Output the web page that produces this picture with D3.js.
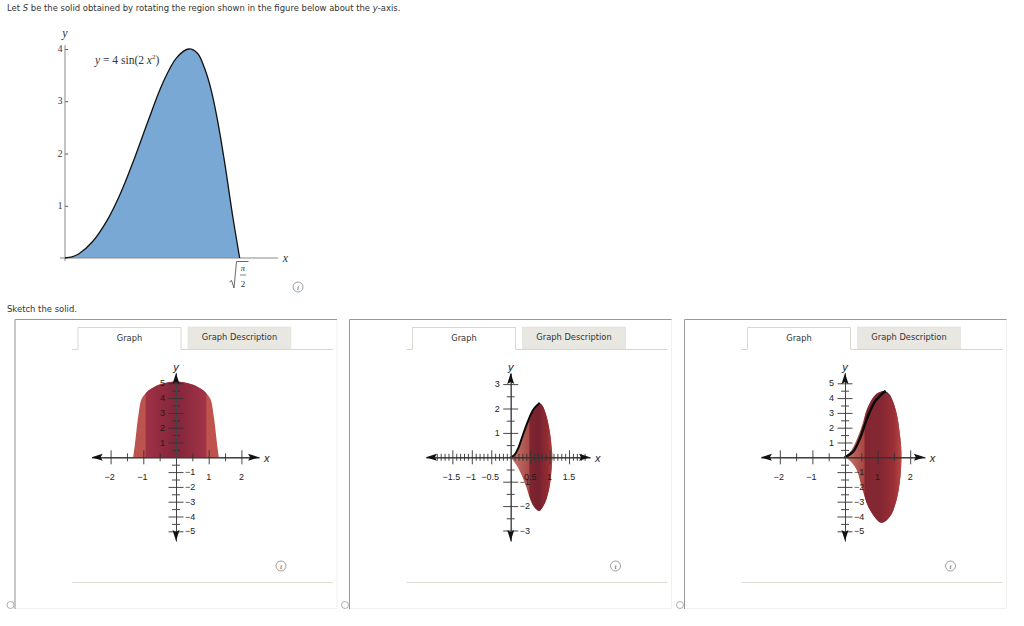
<!DOCTYPE html>
<html>
<head>
<meta charset="utf-8">
<script src="https://cdn.jsdelivr.net/npm/d3@7"></script>
<style>
  body { margin: 0; background: white; }
  svg { display: block; }
  text { font-family: "DejaVu Sans", sans-serif; }
  .ticklabel { font-family: "Liberation Sans", sans-serif; font-size: 9px; fill: #1c1c1c; }
  .axislabel { font-family: "Liberation Sans", sans-serif; font-size: 11px; font-style: italic; fill: #222; }
  .serif { font-family: "Liberation Serif", serif; fill: #333; }
</style>
</head>
<body>
<svg id="chart" width="1024" height="626"></svg>
<script>
// Region curve.
const regionX = [0, 0.05, 0.1, 0.2, 0.3, 0.4, 0.5, 0.6, 0.7, 0.8, 0.886, 0.95, 1.0, 1.05, 1.1, 1.15, 1.2, 1.253];
const regionY = [0, 0.02, 0.08, 0.32, 0.71, 1.25, 1.92, 2.65, 3.34, 3.83, 4, 3.92, 3.64, 3.2, 2.55, 1.75, 0.85, 0];
const regionYTicks = [1, 2, 3, 4];

// First solid: outer outline.
const solidAX = [-1.31, -1.25, -1.2, -1.14, -1.06, -0.92, -0.75, -0.5, -0.23, 0, 0.23, 0.5, 0.75, 0.92, 1.06, 1.14, 1.2, 1.25, 1.31];
const solidAY = [0, 1, 2, 3, 3.9, 4.35, 4.65, 4.92, 5.07, 5.1, 5.07, 4.92, 4.65, 4.35, 3.9, 3, 2, 1, 0];

// Second solid: right/lower outline, plus the black profile curve.
const solidBX = [0, 0.17, 0.37, 0.5, 0.62, 0.73, 0.8, 0.9, 1.0, 1.06, 1.07, 1.05, 1.0, 0.9, 0.8, 0.73, 0.6, 0.5, 0.37, 0.17, 0];
const solidBY = [0, 0.3, 1.1, 1.7, 2.05, 2.21, 2.15, 1.8, 1.1, 0.3, 0, -0.5, -1.2, -1.8, -2.1, -2.2, -2.03, -1.7, -1.07, -0.38, 0];
const profileBX = [0, 0.1, 0.2, 0.3, 0.4, 0.5, 0.6, 0.73];
const profileBY = [0, 0.1, 0.4, 0.85, 1.3, 1.7, 2.0, 2.21];

// Third solid.
const solidCX = [0, 0.2, 0.46, 0.71, 0.92, 1.12, 1.25, 1.4, 1.58, 1.68, 1.73, 1.7, 1.58, 1.38, 1.12, 0.77, 0.51, 0.36, 0.15, 0];
const solidCY = [0, 0.5, 1.74, 3.43, 4.2, 4.45, 4.42, 4.1, 3.0, 1.6, 0.4, -1.3, -2.9, -4.0, -4.42, -3.57, -2.0, -0.86, -0.23, 0];
const profileCX = [0, 0.25, 0.46, 0.66, 0.92, 1.22];
const profileCY = [0, 0.38, 1.29, 2.53, 3.77, 4.45];
const profileTailCX = [1.22, 1.32, 1.4];
const profileTailCY = [4.45, 4.32, 4.1];

// Axis ticks for the three graphs.
const wholeTicks2 = [-2, -1, 1, 2];
const halfTicks2 = [-1.5, -0.5, 0.5, 1.5];
const wholeTicks5 = [-5, -4, -3, -2, -1, 1, 2, 3, 4, 5];
const halfTicks5 = [-4.5, -3.5, -2.5, -1.5, -0.5, 0.5, 1.5, 2.5, 3.5, 4.5];
const xMajorB = [-1.5, -1, -0.5, 0.5, 1, 1.5];
const xMinorB = [-1.9, -1.8, -1.7, -1.6, -1.4, -1.3, -1.2, -1.1, -0.9, -0.8, -0.7, -0.6, -0.4, -0.3, -0.2, -0.1,
	0.1, 0.2, 0.3, 0.4, 0.6, 0.7, 0.8, 0.9, 1.1, 1.2, 1.3, 1.4, 1.6, 1.7, 1.8, 1.9];
const yMajorB = [-3, -2, -1, 1, 2, 3];
const yMinorB = [-2.5, -1.5, -0.5, 0.5, 1.5, 2.5];

const tabLabels = ["Graph", "Graph Description"];

const svg = d3.select("#chart");
const fmt = d => String(d).replace("-", "\u2212");
const zip = (xs, ys) => xs.map((x, i) => [x, ys[i]]);


// Text at the top.
let title = svg.append("text").attr("x", 7).attr("y", 11).attr("font-size", 8.45).attr("fill", "#333");
title.append("tspan").text("Let ");
title.append("tspan").attr("font-style", "italic").text("S");
title.append("tspan").text(" be the solid obtained by rotating the region shown in the figure below about the ");
title.append("tspan").attr("font-style", "italic").text("y");
title.append("tspan").text("-axis.");

svg.append("text").attr("x", 7).attr("y", 312).attr("font-size", 8.45).attr("fill", "#333").text("Sketch the solid.");


function infoIcon(x, y){
	let g = svg.append("g").attr("transform", `translate(${x},${y})`);
	g.append("circle").attr("r", 5).attr("fill", "white").attr("stroke", "#777").attr("stroke-width", 0.7);
	g.append("text").attr("class", "serif").attr("text-anchor", "middle").attr("y", 2.5)
	  .attr("font-size", 7).attr("font-style", "italic").text("i");
} // infoIcon


function drawRegion(){
	let x = d3.scaleLinear().domain([0, 1]).range([65, 204.4]);
	let y = d3.scaleLinear().domain([0, 4]).range([258, 49]);
	let points = zip(regionX, regionY);
	let g = svg.append("g");

	g.append("path")
	  .attr("d", d3.area().x(d=>x(d[0])).y0(y(0)).y1(d=>y(d[1])).curve(d3.curveCatmullRom)(points))
	  .attr("fill", "#78a8d3");

	// Axes.
	let yaxis = g.append("g").attr("transform", `translate(${x(0)},0)`)
	  .call(d3.axisRight(y).tickValues(regionYTicks).tickFormat("").tickSize(3).tickSizeOuter(0));
	yaxis.select(".domain").remove();
	yaxis.selectAll("line").attr("stroke", "#555");
	g.append("line").attr("x1", x(0)).attr("x2", x(0)).attr("y1", 45).attr("y2", 261).attr("stroke", "#888");
	g.append("line").attr("x1", 60).attr("x2", 278).attr("y1", y(0)).attr("y2", y(0)).attr("stroke", "#888");

	g.append("path")
	  .attr("d", d3.line().x(d=>x(d[0])).y(d=>y(d[1])).curve(d3.curveCatmullRom)(points))
	  .attr("fill", "none").attr("stroke", "#111").attr("stroke-width", 1.3);

	g.selectAll("text.ytick").data(regionYTicks).enter().append("text")
	  .attr("class", "serif ytick").attr("x", 60).attr("y", d=>y(d)+3.2)
	  .attr("text-anchor", "middle").attr("font-size", 9.5).text(d=>d);

	g.append("text").attr("class", "serif").attr("x", 65).attr("y", 37).attr("text-anchor", "middle")
	  .attr("font-size", 12).attr("font-style", "italic").text("y");
	g.append("text").attr("class", "serif").attr("x", 285.5).attr("y", 261.5).attr("text-anchor", "middle")
	  .attr("font-size", 12).attr("font-style", "italic").text("x");

	let eq = g.append("text").attr("class", "serif").attr("x", 95).attr("y", 63.5).attr("font-size", 11.5);
	eq.append("tspan").attr("font-style", "italic").text("y");
	eq.append("tspan").text(" = 4 sin(2 ");
	eq.append("tspan").attr("font-style", "italic").text("x");
	eq.append("tspan").attr("font-size", 7).attr("dy", -4.5).text("2");
	eq.append("tspan").attr("dy", 4.5).text(")");

	// sqrt(pi/2) tick label.
	g.append("path").attr("d", "M229.5,282 L231.5,280.5 L234,288 L236.5,261.5 L248.5,261.5")
	  .attr("fill", "none").attr("stroke", "#444").attr("stroke-width", 0.8);
	g.append("text").attr("class", "serif").attr("x", 243).attr("y", 270.5).attr("text-anchor", "middle")
	  .attr("font-size", 8.5).attr("font-style", "italic").text("\u03c0");
	g.append("line").attr("x1", 240).attr("x2", 246).attr("y1", 275).attr("y2", 275).attr("stroke", "#555").attr("stroke-width", 0.7);
	g.append("text").attr("class", "serif").attr("x", 243).attr("y", 286.5).attr("text-anchor", "middle")
	  .attr("font-size", 9).text("2");
} // drawRegion


function gradient(id, x1, x2, stops){
	let grad = svg.append("defs").append("linearGradient").attr("id", id)
	  .attr("gradientUnits", "userSpaceOnUse")
	  .attr("x1", x1).attr("x2", x2).attr("y1", 0).attr("y2", 0);
	stops.forEach(s=>grad.append("stop").attr("offset", s[0]).attr("stop-color", s[1]));
} // gradient


function drawPanel(config){
	let left = config.left;
	let g = svg.append("g");

	// Box: strong top and left edges, faint right and bottom ones.
	g.append("rect").attr("x", left).attr("y", 319.5).attr("width", 322).attr("height", 289)
	  .attr("fill", "white").attr("stroke", "#f0f0ee");
	g.append("path").attr("d", `M${left},609 V319.5 H${left+322}`)
	  .attr("fill", "none").attr("stroke", "#999");
	g.append("circle").attr("cx", left-4.5).attr("cy", 605).attr("r", 3.5)
	  .attr("fill", "white").attr("stroke", "#999").attr("stroke-width", 0.8);

	// Tabs.
	g.append("rect").attr("x", left+173).attr("y", 327).attr("width", 103).attr("height", 22)
	  .attr("fill", "#e8e7e2").attr("stroke", "#e0dfd9").attr("stroke-width", 0.6);
	g.append("path").attr("d", `M${left+57},349.5 H${left+63} V327.5 H${left+166} V349.5 H${left+318}`)
	  .attr("fill", "none").attr("stroke", "#d8d7cf");
	g.append("text").attr("x", left+114.5).attr("y", 341).attr("text-anchor", "middle")
	  .attr("font-size", 8.3).attr("fill", "#333").text(tabLabels[0]);
	g.append("text").attr("x", left+224.5).attr("y", 340).attr("text-anchor", "middle")
	  .attr("font-size", 8.3).attr("fill", "#333").text(tabLabels[1]);
	g.append("line").attr("x1", left+57).attr("x2", left+318).attr("y1", 582.5).attr("y2", 582.5)
	  .attr("stroke", "#dcdbd4");

	infoIcon(left+266, 566);
	drawGraph(config);
} // drawPanel


function drawGraph(c){
	let x = d3.scaleLinear().domain(c.xExtent)
	  .range([c.ox + c.xExtent[0]*c.ux, c.ox + c.xExtent[1]*c.ux]);
	let y = d3.scaleLinear().domain(c.yExtent)
	  .range([c.oy - c.yExtent[0]*c.uy, c.oy - c.yExtent[1]*c.uy]);
	let g = svg.append("g");
	let line = d3.line().x(d=>x(d[0])).y(d=>y(d[1])).curve(d3.curveCatmullRom);

	// The solid: light side first, darker body clipped to the same outline.
	let outline = line(zip(c.shapeX, c.shapeY)) + "Z";
	gradient(c.id+"side", x(c.sideGrad[0]), x(c.sideGrad[1]), c.sideStops);
	gradient(c.id+"body", x(c.body[0]), x(c.body[1]), c.bodyStops);
	g.append("clipPath").attr("id", c.id+"clip").append("path").attr("d", outline);
	g.append("path").attr("d", outline).attr("fill", `url(#${c.id}side)`);
	g.append("rect").attr("clip-path", `url(#${c.id}clip)`)
	  .attr("x", x(c.body[0])).attr("width", x(c.body[1])-x(c.body[0]))
	  .attr("y", y(c.yExtent[1])).attr("height", y(c.yExtent[0])-y(c.yExtent[1]))
	  .attr("fill", `url(#${c.id}body)`);

	// Black profile curve on the side views.
	if(c.profileX){
		g.append("path").attr("d", line(zip(c.profileX, c.profileY)))
		  .attr("fill", "none").attr("stroke", "#0a0a0a").attr("stroke-width", c.profileWidth)
		  .attr("stroke-linecap", "round");
	} // if
	if(c.tailX){
		g.append("path").attr("d", line(zip(c.tailX, c.tailY)))
		  .attr("fill", "none").attr("stroke", "#222").attr("stroke-width", 1);
	} // if

	// Axes: ticks are stretched across the axis line after the axis is drawn.
	function xticks(values, half){
		let a = g.append("g").attr("transform", `translate(0,${c.oy})`)
		  .call(d3.axisBottom(x).tickValues(values).tickFormat("").tickSizeOuter(0));
		a.select(".domain").attr("stroke", "#333");
		a.selectAll("line").attr("y1", -half).attr("y2", half).attr("stroke", "#333").attr("stroke-width", 0.9);
	} // xticks
	function yticks(values, half){
		let a = g.append("g").attr("transform", `translate(${c.ox},0)`)
		  .call(d3.axisLeft(y).tickValues(values).tickFormat("").tickSizeOuter(0));
		a.select(".domain").attr("stroke", "#444");
		a.selectAll("line").attr("x1", -half).attr("x2", half).attr("stroke", "#333").attr("stroke-width", 0.9);
	} // yticks
	xticks(c.xMinor, c.xMinorHalf);
	xticks(c.xMajor, 7);
	yticks(c.yMinor, 4);
	yticks(c.yMajor, 7.5);

	// Arrow heads at the axis ends.
	let head = [
		[x(c.xExtent[0]), c.oy, 1, 0], [x(c.xExtent[1]), c.oy, -1, 0],
		[c.ox, y(c.yExtent[1]), 0, 1], [c.ox, y(c.yExtent[0]), 0, -1]
	];
	g.selectAll("path.head").data(head).enter().append("path").attr("class", "head")
	  .attr("fill", "#111")
	  .attr("d", d=>{
		  let px = d[3]*3.5, py = d[2]*3.5;
		  return `M${d[0]},${d[1]} L${d[0]+d[2]*11+px},${d[1]+d[3]*11+py} L${d[0]+d[2]*9},${d[1]+d[3]*9} L${d[0]+d[2]*11-px},${d[1]+d[3]*11-py}Z`;
	  });

	// Labels. In the reference some of these sit on top of each other too.
	g.selectAll("text.xlab").data(c.xMajor).enter().append("text")
	  .attr("class", "ticklabel xlab").attr("x", d=>x(d)+(d<0?-1:0)).attr("y", c.oy+22.5)
	  .attr("text-anchor", "middle").text(fmt);
	g.selectAll("text.ylab").data(c.yMajor).enter().append("text")
	  .attr("class", "ticklabel ylab")
	  .attr("x", d=>d>0 ? c.ox-11 : c.ox+9)
	  .attr("y", d=>y(d)+3)
	  .attr("text-anchor", d=>d>0 ? "end" : "start").text(fmt);
	g.append("text").attr("class", "axislabel").attr("x", x(c.xExtent[1])+5).attr("y", c.oy+5).text("x");
	g.append("text").attr("class", "axislabel").attr("x", c.ox).attr("y", y(c.yExtent[1])-2)
	  .attr("text-anchor", "middle").text("y");
} // drawGraph


drawRegion();
infoIcon(298, 287);

drawPanel({
	id: "a", left: 15, ox: 176, oy: 457.3, ux: 32.7, uy: 14.8,
	xExtent: [-2.58, 2.54], yExtent: [-5.65, 5.7],
	shapeX: solidAX, shapeY: solidAY,
	sideGrad: [-1.31, 1.31], sideStops: [[0, "#bb5350"], [1, "#bf534d"]],
	body: [-0.93, 0.93], bodyStops: [[0, "#a03146"], [0.5, "#83263a"], [1, "#a33348"]],
	xMajor: wholeTicks2, xMinor: halfTicks2, xMinorHalf: 4,
	yMajor: wholeTicks5, yMinor: halfTicks5
});

drawPanel({
	id: "b", left: 349.5, ox: 510.7, oy: 457.3, ux: 38.9, uy: 24.4,
	xExtent: [-2.18, 2.04], yExtent: [-3.43, 3.45],
	shapeX: solidBX, shapeY: solidBY,
	profileX: profileBX, profileY: profileBY, profileWidth: 2,
	sideGrad: [0, 0.5], sideStops: [[0, "#c67a70"], [1, "#a84845"]],
	body: [0.48, 1.08], bodyStops: [[0, "#82262f"], [0.4, "#752130"], [0.8, "#962c32"], [1, "#b24240"]],
	xMajor: xMajorB, xMinor: xMinorB, xMinorHalf: 3.5,
	yMajor: yMajorB, yMinor: yMinorB
});

drawPanel({
	id: "c", left: 684.5, ox: 845, oy: 457.3, ux: 32.6, uy: 14.8,
	xExtent: [-2.58, 2.45], yExtent: [-5.65, 5.7],
	shapeX: solidCX, shapeY: solidCY,
	profileX: profileCX, profileY: profileCY, profileWidth: 2.5,
	tailX: profileTailCX, tailY: profileTailCY,
	sideGrad: [0, 0.62], sideStops: [[0, "#c67a70"], [1, "#a8423f"]],
	body: [0.6, 1.74], bodyStops: [[0, "#822732"], [0.45, "#842733"], [0.8, "#9c3036"], [1, "#b84a46"]],
	xMajor: wholeTicks2, xMinor: halfTicks2, xMinorHalf: 4,
	yMajor: wholeTicks5, yMinor: halfTicks5
});
</script>
</body>
</html>
